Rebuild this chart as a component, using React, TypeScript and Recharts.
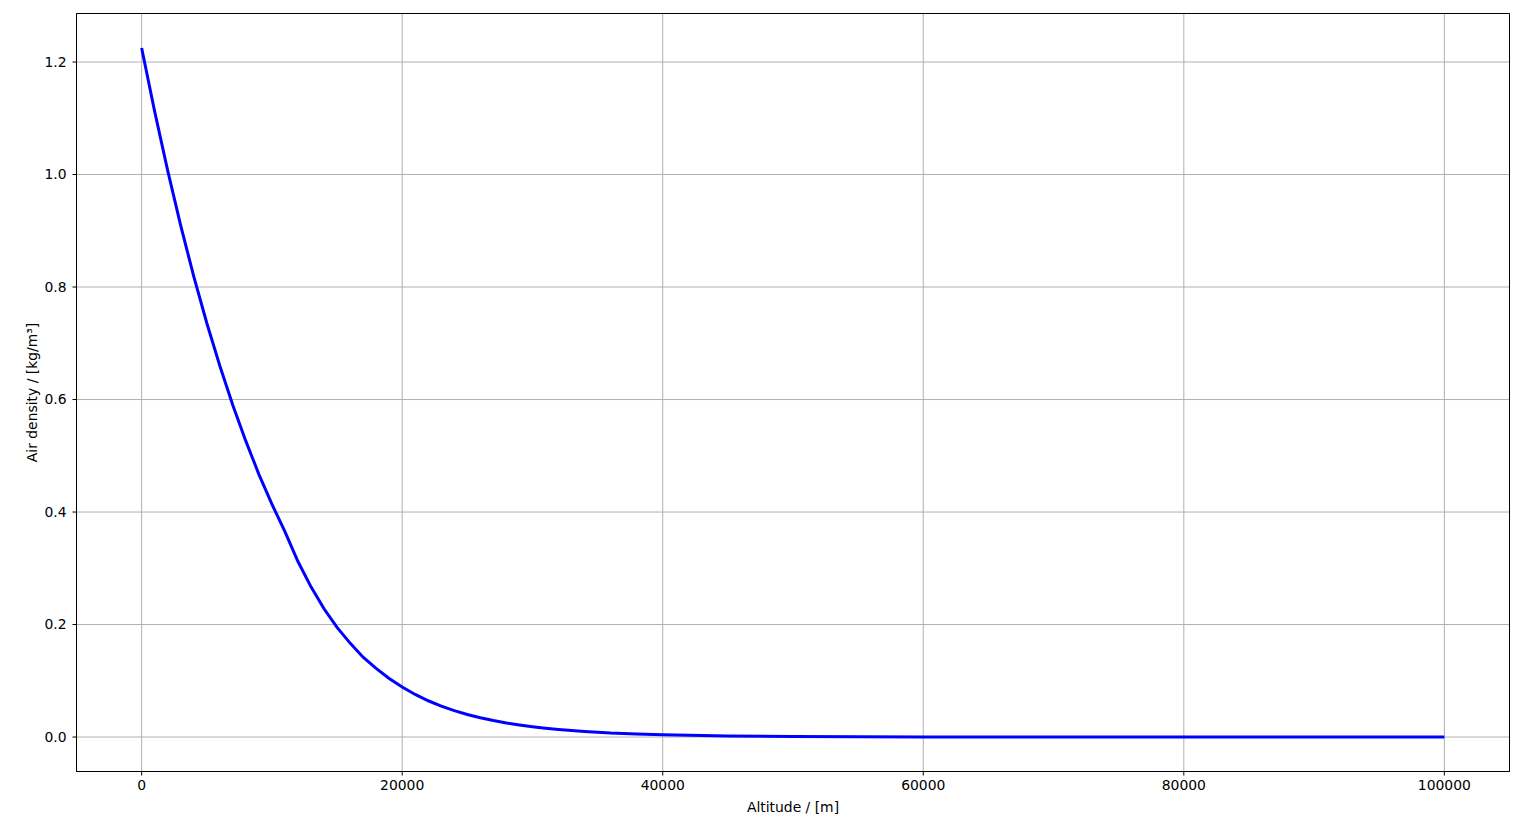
import * as React from "react";
import {
  LineChart,
  Line,
  XAxis,
  YAxis,
  CartesianGrid,
  ReferenceArea,
} from "recharts";

// altitude [m]
const altitudes = [
  0, 1000, 2000, 3000, 4000, 5000, 6000, 7000, 8000, 9000, 10000, 11000, 12000,
  13000, 14000, 15000, 16000, 17000, 18000, 19000, 20000, 21000, 22000, 23000,
  24000, 25000, 26000, 27000, 28000, 29000, 30000, 31000, 32000, 33000, 34000,
  35000, 36000, 38000, 40000, 42000, 45000, 50000, 55000, 60000, 65000, 70000,
  75000, 80000, 90000, 100000,
];

// air density [kg/m³]
const densities = [
  1.225, 1.112, 1.007, 0.909, 0.819, 0.736, 0.660, 0.590, 0.526, 0.467, 0.414,
  0.365, 0.312, 0.267, 0.228, 0.195, 0.167, 0.142, 0.122, 0.104, 0.0889,
  0.0757, 0.0645, 0.0551, 0.0469, 0.0401, 0.0343, 0.0293, 0.0251, 0.0215,
  0.0184, 0.0158, 0.0136, 0.0117, 0.0099, 0.0085, 0.0071, 0.0054, 0.0040,
  0.0030, 0.0020, 0.0010, 0.0006, 0.0003, 0.00016, 0.00008, 0.00004, 0.00002,
  0.000003, 0.0000006,
];

const xTicks = [0, 20000, 40000, 60000, 80000, 100000];
const yTicks = [0, 0.2, 0.4, 0.6, 0.8, 1.0, 1.2];
const xDomain = [-5000, 105000];
const yDomain = [-0.06125, 1.28625];

const data = altitudes.map((alt, i) => ({ alt, rho: densities[i] }));

const FONT = "'DejaVu Sans', sans-serif";
const tickStyle = { fill: "#000", fontSize: 13.9, fontFamily: FONT };

export default function App() {
  return (
    <div style={{ position: "absolute", left: 0, top: 0, background: "#fff" }}>
      <LineChart
        width={1529}
        height={836}
        data={data}
        margin={{ top: 13.5, right: 19.5, bottom: 0, left: 0 }}
      >
        <CartesianGrid stroke="#b0b0b0" strokeWidth={1} />
        <XAxis
          dataKey="alt"
          type="number"
          domain={xDomain}
          ticks={xTicks}
          allowDataOverflow
          height={64.5}
          stroke="#000"
          tickSize={4}
          tickMargin={5}
          tick={tickStyle}
          label={{
            value: "Altitude / [m]",
            position: "insideBottom",
            offset: 24,
            style: { fill: "#000", fontSize: 13.9, fontFamily: FONT },
          }}
        />
        <YAxis
          type="number"
          domain={yDomain}
          ticks={yTicks}
          allowDataOverflow
          width={76.5}
          stroke="#000"
          tickSize={4}
          tickMargin={6}
          tick={tickStyle}
          tickFormatter={(v: number) => v.toFixed(1)}
          label={{
            content: (props: any) => {
              const vb = props.viewBox;
              const cx = 32;
              const cy = vb.y + vb.height / 2;
              return (
                <text
                  x={cx}
                  y={cy}
                  transform={`rotate(-90, ${cx}, ${cy})`}
                  textAnchor="middle"
                  dominantBaseline="central"
                  fill="#000"
                  fontSize={13.9}
                  fontFamily={FONT}
                >
                  Air density / [kg/m³]
                </text>
              );
            },
          }}
        />
        <ReferenceArea
          x1={xDomain[0]}
          x2={xDomain[1]}
          y1={yDomain[0]}
          y2={yDomain[1]}
          fill="none"
          fillOpacity={0}
          stroke="#000"
          strokeWidth={1}
          ifOverflow="visible"
        />
        <Line
          dataKey="rho"
          type="linear"
          stroke="#0000ff"
          strokeWidth={3}
          dot={false}
          isAnimationActive={false}
        />
      </LineChart>
    </div>
  );
}
